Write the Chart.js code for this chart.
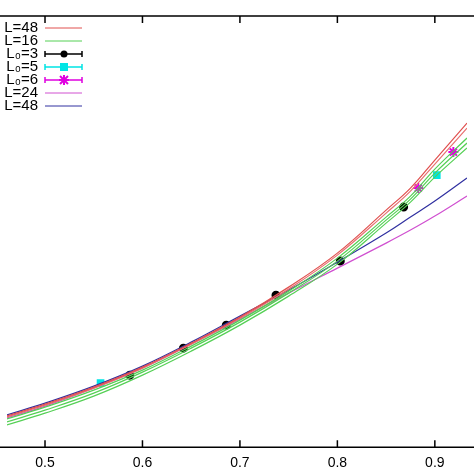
<!DOCTYPE html>
<html>
<head>
<meta charset="utf-8">
<script src="https://cdn.jsdelivr.net/npm/chart.js@4"></script>
<style>
  html, body { margin: 0; padding: 0; background: #fff; overflow: hidden; }
  #wrap { width: 474px; height: 474px; }
</style>
</head>
<body>
<div id="wrap"><canvas id="fitChart"></canvas></div>
<script>
// x grid where the curves are sampled
const xs = [0.46, 0.5, 0.55, 0.6, 0.65, 0.7, 0.75, 0.8, 0.85, 0.875, 0.9, 0.933];
// y values are in arbitrary units (no y labels visible in the reference)
const red1 = [31, 43, 60, 80, 104, 130, 160, 194, 237, 259, 287, 324];
const red2 = [30, 42, 59, 79, 103, 129, 158, 192, 234, 256, 283, 319];
const green1 = [28, 40, 57, 77, 101, 127, 156, 189, 230, 251, 278, 309];
const green2 = [25, 37, 54, 75, 99, 125, 154, 186, 227, 248, 274, 304];
const green3 = [22, 34, 51, 72, 96, 122, 151, 183, 224, 245, 270, 299];
const magentaLine = [29, 41, 59, 79, 103, 128, 154, 179, 204, 217, 231, 251];
const blueLine = [32, 44, 61, 81, 105, 131, 157, 185, 214, 230, 246, 269];

const l3x = [0.587, 0.642, 0.686, 0.737, 0.803, 0.868];
const l3y = [72, 99, 122, 152, 186, 240];
const l5x = [0.557, 0.902];
const l5y = [64, 272];
const l6x = [0.883, 0.919];
const l6y = [259, 295];

const xTicks = [0.5, 0.6, 0.7, 0.8, 0.9];

const legendItems = [
    { text: "L=48", color: "#e0504f", kind: "line" },
    { text: "L=16", color: "#55d055", kind: "line" },
    { text: "L\u2080=3", color: "#000000", kind: "bar", marker: "circle" },
    { text: "L\u2080=5", color: "#00e5e5", kind: "bar", marker: "rect" },
    { text: "L\u2080=6", color: "#e000e0", kind: "bar", marker: "star" },
    { text: ". L=24", color: "#d050d0", kind: "line" },
    { text: ". L=48", color: "#3030a0", kind: "line" }
];

function pts(xv, yv) {
    return xv.map((x, i) => ({ x: x, y: yv[i] }));
}

function line(label, data, color) {
    return {
        label, data: pts(xs, data), borderColor: color, borderWidth: 1.2,
        pointRadius: 0, tension: 0.4, showLine: true, fill: false
    };
}

function marks(label, xv, yv, color, style, r) {
    return {
        label, data: pts(xv, yv), borderColor: color, backgroundColor: color,
        pointStyle: style, pointRadius: r, borderWidth: 2, showLine: false
    };
}

const framePlugin = {
    id: "frame",
    afterDraw(chart) {
        const { ctx, chartArea } = chart;
        const xScale = chart.scales.x;
        ctx.save();
        ctx.strokeStyle = "#000";
        ctx.lineWidth = 1.5;
        ctx.beginPath();
        ctx.moveTo(0, chartArea.top);
        ctx.lineTo(chart.width, chartArea.top);
        ctx.moveTo(0, chartArea.bottom);
        ctx.lineTo(chart.width, chartArea.bottom);
        xTicks.forEach(t => {
            const px = xScale.getPixelForValue(t);
            ctx.moveTo(px, chartArea.bottom);
            ctx.lineTo(px, chartArea.bottom - 7);
            ctx.moveTo(px, chartArea.top);
            ctx.lineTo(px, chartArea.top + 7);
        });
        ctx.stroke();

        // legend, gnuplot style
        ctx.font = "15px 'Liberation Sans', Arial, sans-serif";
        ctx.textAlign = "right";
        ctx.textBaseline = "middle";
        legendItems.forEach((item, i) => {
            const y = chartArea.top + 12 + i * 13;
            ctx.fillStyle = "#000";
            ctx.fillText(item.text, 38, y);
            ctx.strokeStyle = item.color;
            ctx.fillStyle = item.color;
            ctx.lineWidth = item.kind === "bar" ? 1.5 : 1;
            ctx.beginPath();
            ctx.moveTo(45, y);
            ctx.lineTo(82, y);
            if (item.kind === "bar") {
                ctx.moveTo(45, y - 3); ctx.lineTo(45, y + 3);
                ctx.moveTo(82, y - 3); ctx.lineTo(82, y + 3);
            }
            ctx.stroke();
            if (item.marker === "circle") {
                ctx.beginPath(); ctx.arc(64, y, 3.5, 0, Math.PI * 2); ctx.fill();
            } else if (item.marker === "rect") {
                ctx.fillRect(60, y - 4, 8, 8);
            } else if (item.marker === "star") {
                ctx.lineWidth = 2;
                ctx.beginPath();
                ctx.moveTo(60, y - 4); ctx.lineTo(68, y + 4);
                ctx.moveTo(68, y - 4); ctx.lineTo(60, y + 4);
                ctx.moveTo(64, y - 5); ctx.lineTo(64, y + 5);
                ctx.moveTo(59, y); ctx.lineTo(69, y);
                ctx.stroke();
            }
        });
        ctx.restore();
    }
};

new Chart(document.getElementById("fitChart").getContext("2d"), {
    type: "scatter",
    data: {
        datasets: [
            line("L=48", red1, "#e0504f"),
            line("L=48b", red2, "#e87070"),
            line("L=16", green1, "#55d055"),
            line("L=16b", green2, "#55d055"),
            line("L=16c", green3, "#55d055"),
            line(". L=24", magentaLine, "#d050d0"),
            line(". L=48", blueLine, "#3030a0"),
            marks("L0=3", l3x, l3y, "#000000", "circle", 3.5),
            marks("L0=5", l5x, l5y, "#00e5e5", "rect", 4),
            marks("L0=6", l6x, l6y, "#e000e0", "star", 5)
        ]
    },
    options: {
        responsive: true,
        maintainAspectRatio: false,
        animation: false,
        layout: { padding: { top: 16, left: -6, right: -8, bottom: -6 } },
        plugins: {
            legend: { display: false },
            tooltip: { enabled: false }
        },
        scales: {
            x: {
                type: "linear",
                min: 0.461,
                max: 0.933,
                grid: { display: false, drawTicks: false },
                border: { display: false },
                afterBuildTicks: axis => { axis.ticks = xTicks.map(v => ({ value: v })); },
                ticks: {
                    color: "#000",
                    padding: 8,
                    font: { family: "'Liberation Sans', Arial, sans-serif", size: 14 },
                    callback: v => v.toFixed(1)
                }
            },
            y: {
                display: false,
                min: 0,
                max: 431
            }
        }
    },
    plugins: [framePlugin]
});
</script>
</body>
</html>
